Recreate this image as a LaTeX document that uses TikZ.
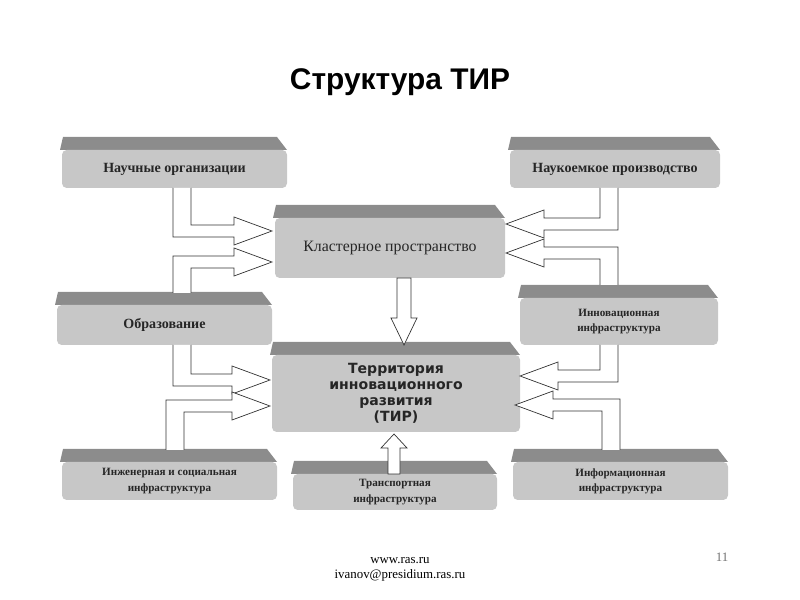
\documentclass[tikz,border=0pt]{standalone}
\usepackage{fontspec}
\setmainfont{Liberation Serif}
\newfontfamily\titlefont{Liberation Sans}
\newfontfamily\dvs{DejaVu Sans}
\begin{document}
\begin{tikzpicture}[x=0.03cm,y=-0.03cm,
  face/.style={fill=black!22,rounded corners=4pt,inner sep=0pt},
  topband/.style={fill=black!45},
  arr/.style={draw=black!80,fill=white,line width=0.6pt,line join=miter},
  lbl/.style={font=\bfseries\fontsize{12}{14}\selectfont,align=center,text=black!85},
  sm/.style={font=\bfseries\fontsize{9.5}{13}\selectfont,align=center,text=black!85}]
\useasboundingbox (0,0) rectangle (800,600);
\newcommand\Boxx[7]{%
  \fill[topband] (#2-2,#3) -- (#2+1,#3-13) -- (#4-10,#3-13) -- (#4,#3) -- cycle;
  \path[face] (#2,#3) rectangle (#4,#5);
  \node[#7] (#1) at ({(#2+#4)/2},{(#3+#5)/2}) {#6};}
\newcommand\Larr[6]{%
  \draw[arr] (#1,#2) -- (#1,{#3+#6*6}) -- ({#4-#5*38},{#3+#6*6}) -- ({#4-#5*38},{#3+#6*14})
   -- (#4,#3) -- ({#4-#5*38},{#3-#6*14}) -- ({#4-#5*38},{#3-#6*6})
   -- ({#1+#5*18},{#3-#6*6}) -- ({#1+#5*18},#2);}
\node[font=\titlefont\bfseries\fontsize{25.5}{28}\selectfont] (title) at (400,82) {Структура ТИР};
\Boxx{A}{62}{150}{287}{188}{Научные организации}{lbl}
\Boxx{B}{510}{150}{720}{188}{Наукоемкое производство}{lbl}
\Boxx{C}{275}{218}{505}{278}{Кластерное пространство}{align=center,text=black!85,font=\fontsize{13.5}{16}\selectfont}
\Boxx{D}{57}{305}{272}{345}{Образование}{lbl}
\Boxx{E}{520}{298}{718}{345}{Инновационная\\инфраструктура}{sm}
\Boxx{F}{272}{355}{520}{432}{Территория\\инновационного\\развития\\(ТИР)}{font=\dvs\bfseries\fontsize{12}{13.5}\selectfont,align=center,text=black!85}
\Boxx{G}{62}{462}{277}{500}{Инженерная и социальная\\инфраструктура}{sm}
\Boxx{H}{293}{474}{497}{510}{Транспортная\\инфраструктура}{sm}
\Boxx{I}{513}{462}{728}{500}{Информационная\\инфраструктура}{sm}
\Larr{173}{188}{231}{272}{1}{1}
\Larr{173}{293}{262}{272}{1}{-1}
\Larr{173}{345}{380}{270}{1}{1}
\Larr{166}{450}{406}{270}{1}{-1}
\Larr{618}{188}{224}{506}{-1}{1}
\Larr{618}{285}{253}{506}{-1}{-1}
\Larr{618}{345}{376}{520}{-1}{1}
\Larr{620}{450}{405}{515}{-1}{-1}
\draw[arr] (397,278) -- (397,318) -- (391,318) -- (404,345) -- (417,318) -- (411,318) -- (411,278) -- cycle;
\draw[arr] (388,474) -- (388,448) -- (381,448) -- (394,434) -- (407,448) -- (400,448) -- (400,474) -- cycle;
\node[font=\fontsize{11}{13}\selectfont,align=center] (foot) at (400,569) {www.ras.ru\\ivanov@presidium.ras.ru};
\node[font=\fontsize{11}{13}\selectfont,text=black!55] (pg) at (722,557) {11};
\end{tikzpicture}
\end{document}
